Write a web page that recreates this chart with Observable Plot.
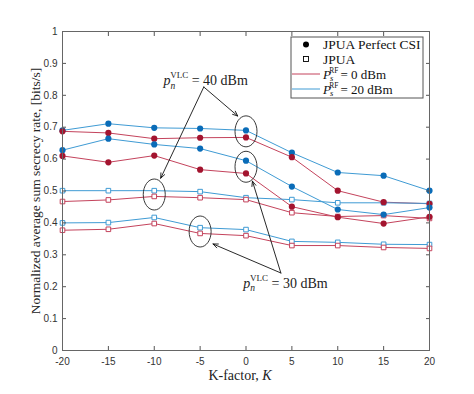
<!DOCTYPE html>
<html>
<head>
<meta charset="utf-8">
<script src="https://cdn.jsdelivr.net/npm/d3@7"></script>
<script src="https://cdn.jsdelivr.net/npm/@observablehq/plot@0.6"></script>
<style>
  html, body { margin: 0; padding: 0; background: #fff; }
  #chart { position: relative; width: 474px; height: 394px; }
</style>
</head>
<body>
<div id="chart"></div>
<script>
// ---- data ----
const kFactor = [-20, -15, -10, -5, 0, 5, 10, 15, 20];
const csi40_rf20 = [0.690, 0.711, 0.698, 0.696, 0.690, 0.620, 0.558, 0.548, 0.501];
const csi40_rf0  = [0.687, 0.682, 0.664, 0.667, 0.668, 0.606, 0.501, 0.465, 0.460];
const csi30_rf20 = [0.628, 0.664, 0.646, 0.633, 0.595, 0.514, 0.442, 0.426, 0.448];
const csi30_rf0  = [0.610, 0.590, 0.611, 0.567, 0.555, 0.451, 0.418, 0.398, 0.419];
const jp40_rf20  = [0.501, 0.501, 0.501, 0.498, 0.479, 0.473, 0.463, 0.463, 0.461];
const jp40_rf0   = [0.467, 0.472, 0.483, 0.479, 0.473, 0.432, 0.420, 0.423, 0.414];
const jp30_rf20  = [0.400, 0.401, 0.417, 0.385, 0.379, 0.342, 0.339, 0.333, 0.332];
const jp30_rf0   = [0.377, 0.380, 0.398, 0.367, 0.360, 0.329, 0.329, 0.323, 0.320];

const xTicks = [-20, -15, -10, -5, 0, 5, 10, 15, 20];
const yTicks = [0, 0.1, 0.2, 0.3, 0.4, 0.5, 0.6, 0.7, 0.8, 0.9, 1];

const seriesList = [
  {name: "csi40_rf20", values: csi40_rf20, rf: "20", csi: true},
  {name: "csi40_rf0",  values: csi40_rf0,  rf: "0",  csi: true},
  {name: "csi30_rf20", values: csi30_rf20, rf: "20", csi: true},
  {name: "csi30_rf0",  values: csi30_rf0,  rf: "0",  csi: true},
  {name: "jp40_rf20",  values: jp40_rf20,  rf: "20", csi: false},
  {name: "jp40_rf0",   values: jp40_rf0,   rf: "0",  csi: false},
  {name: "jp30_rf20",  values: jp30_rf20,  rf: "20", csi: false},
  {name: "jp30_rf0",   values: jp30_rf0,   rf: "0",  csi: false}
];
const rows = seriesList.flatMap(s => s.values.map((v, i) => ({series: s.name, k: kFactor[i], v, rf: s.rf, csi: s.csi})));

// annotations (data coordinates)
const ellipses = [
  {k: 0, v: 0.687}, {k: 0, v: 0.576}, {k: -10, v: 0.489}, {k: -5, v: 0.373}
];
const arrows = [
  {x1: -4.6, y1: 0.826, x2: -0.9, y2: 0.735},
  {x1: -4.6, y1: 0.826, x2: -9.3, y2: 0.540},
  {x1: 3.8, y1: 0.243, x2: 0.7, y2: 0.531},
  {x1: 3.8, y1: 0.243, x2: -3.6, y2: 0.334}
];
const labels = [
  {x: -9.0, y: 0.832, text: "ANN40"},
  {x: -0.3, y: 0.196, text: "ANN30"}
];

const lineColor = {"0": "#c4435c", "20": "#3f9bd4"};
const markColor = {"0": "#a3142f", "20": "#0a6cb8"};

const ellipseSymbol = {
  draw(ctx, size) {
    const rx = 11, ry = 15.5, c = 0.5523;
    ctx.moveTo(rx, 0);
    ctx.bezierCurveTo(rx, c * ry, c * rx, ry, 0, ry);
    ctx.bezierCurveTo(-c * rx, ry, -rx, c * ry, -rx, 0);
    ctx.bezierCurveTo(-rx, -c * ry, -c * rx, -ry, 0, -ry);
    ctx.bezierCurveTo(c * rx, -ry, rx, -c * ry, rx, 0);
    ctx.closePath();
  }
};

const tickFont = "'Liberation Sans', Arial, sans-serif";
const serif = "'Liberation Serif', 'Times New Roman', serif";

const plot = Plot.plot({
  width: 474,
  height: 394,
  marginLeft: 62,
  marginRight: 45,
  marginTop: 31,
  marginBottom: 44,
  style: {background: "#fff", overflow: "visible"},
  x: {domain: [-20, 20]},
  y: {domain: [0, 1]},
  marks: [
    // lines
    Plot.line(rows.filter(d => d.rf === "0"), {x: "k", y: "v", z: "series", stroke: lineColor["0"], strokeWidth: 1}),
    Plot.line(rows.filter(d => d.rf === "20"), {x: "k", y: "v", z: "series", stroke: lineColor["20"], strokeWidth: 1}),
    // JPUA open squares
    Plot.dot(rows.filter(d => !d.csi), {x: "k", y: "v", symbol: "square", r: 2.6, fill: "white", stroke: d => lineColor[d.rf], strokeWidth: 1}),
    // perfect CSI filled circles
    Plot.dot(rows.filter(d => d.csi), {x: "k", y: "v", r: 3.1, fill: d => markColor[d.rf], stroke: "none"}),
    // ellipses
    Plot.dot(ellipses, {x: "k", y: "v", symbol: ellipseSymbol, fill: "none", stroke: "#222", strokeWidth: 0.9}),
    // arrows
    Plot.arrow(arrows, {x1: "x1", y1: "y1", x2: "x2", y2: "y2", stroke: "#111", strokeWidth: 0.9, headLength: 9, headAngle: 45, bend: 0}),
    // annotation texts
    Plot.text(labels, {x: "x", y: "y", text: "text", textAnchor: "start", lineAnchor: "bottom", fontFamily: serif, fontSize: 14, fill: "#222"}),
    // axes: labels
    Plot.axisX(xTicks, {tickSize: -4, tickPadding: 11, fontSize: 10, fontFamily: tickFont, color: "#333", stroke: "#555", tickFormat: d => String(d), label: null}),
    Plot.axisX(xTicks, {anchor: "top", tickSize: -4, tickFormat: () => "", stroke: "#555", label: null}),
    Plot.axisY(yTicks, {tickSize: -4, tickPadding: 9, fontSize: 10, fontFamily: tickFont, color: "#333", stroke: "#555", tickFormat: d => String(+d.toFixed(1)), label: null}),
    Plot.axisY(yTicks, {anchor: "right", tickSize: -4, tickFormat: () => "", stroke: "#555", label: null}),
    Plot.frame({stroke: "#666", strokeWidth: 1}),
    // axis titles
    Plot.text(["K-factor, "], {frameAnchor: "bottom", dy: 25, dx: -6, textAnchor: "middle", fontFamily: serif, fontSize: 14, fill: "#222", lineAnchor: "middle"}),
    Plot.text(["Normalized average sum secrecy rate, [bits/s]"], {frameAnchor: "left", dx: -27, rotate: -90, textAnchor: "middle", fontFamily: serif, fontSize: 13.5, fill: "#222", lineAnchor: "middle"})
  ]
});

document.getElementById("chart").appendChild(plot);

// rich-text annotation labels (p_n^VLC)
const svg = d3.select(plot);
svg.selectAll("text").each(function() {
  const t = d3.select(this);
  const s = t.text();
  if (s === "ANN40" || s === "ANN30") {
    const num = s === "ANN40" ? "40" : "30";
    t.text("");
    t.append("tspan").attr("font-style", "italic").text("p");
    t.append("tspan").attr("font-style", "italic").attr("font-size", 9.5).attr("dy", 3.5).text("n");
    t.append("tspan").attr("font-size", 9).attr("dx", -5).attr("dy", -10.5).text("VLC");
    t.append("tspan").attr("dy", 7).text(" = " + num + " dBm");
  } else if (s === "K-factor, ") {
    t.append("tspan").attr("font-style", "italic").text("K");
  }
});

// legend inside the plot area (top right)
const lg = svg.append("g").attr("transform", "translate(291,37)").attr("font-family", serif).attr("font-size", 13.5).attr("fill", "#111").attr("text-anchor", "start");
lg.append("rect").attr("width", 132).attr("height", 61).attr("fill", "white").attr("stroke", "#555").attr("stroke-width", 1);
lg.append("circle").attr("cx", 15).attr("cy", 7.5).attr("r", 3).attr("fill", "#000");
lg.append("rect").attr("x", 12.5).attr("y", 19.5).attr("width", 5).attr("height", 5).attr("fill", "white").attr("stroke", "#000").attr("stroke-width", 0.9);
lg.append("line").attr("x1", 1).attr("x2", 29).attr("y1", 37).attr("y2", 37).attr("stroke", lineColor["0"]).attr("stroke-width", 1);
lg.append("line").attr("x1", 1).attr("x2", 29).attr("y1", 52).attr("y2", 52).attr("stroke", lineColor["20"]).attr("stroke-width", 1);
lg.append("text").attr("x", 32).attr("y", 12).text("JPUA Perfect CSI");
lg.append("text").attr("x", 32).attr("y", 27).text("JPUA");
[["0", 41.5], ["20", 56.5]].forEach(([p, y]) => {
  const t = lg.append("text").attr("x", 32).attr("y", y).attr("font-size", 13);
  t.append("tspan").attr("font-style", "italic").text("P");
  t.append("tspan").attr("font-style", "italic").attr("font-size", 8.5).attr("dy", 2.5).attr("dx", -1).text("s");
  t.append("tspan").attr("font-size", 7.5).attr("dx", -4).attr("dy", -8.5).text("RF");
  t.append("tspan").attr("dy", 6).attr("dx", 2).text("= " + p + " dBm");
});
</script>
</body>
</html>
